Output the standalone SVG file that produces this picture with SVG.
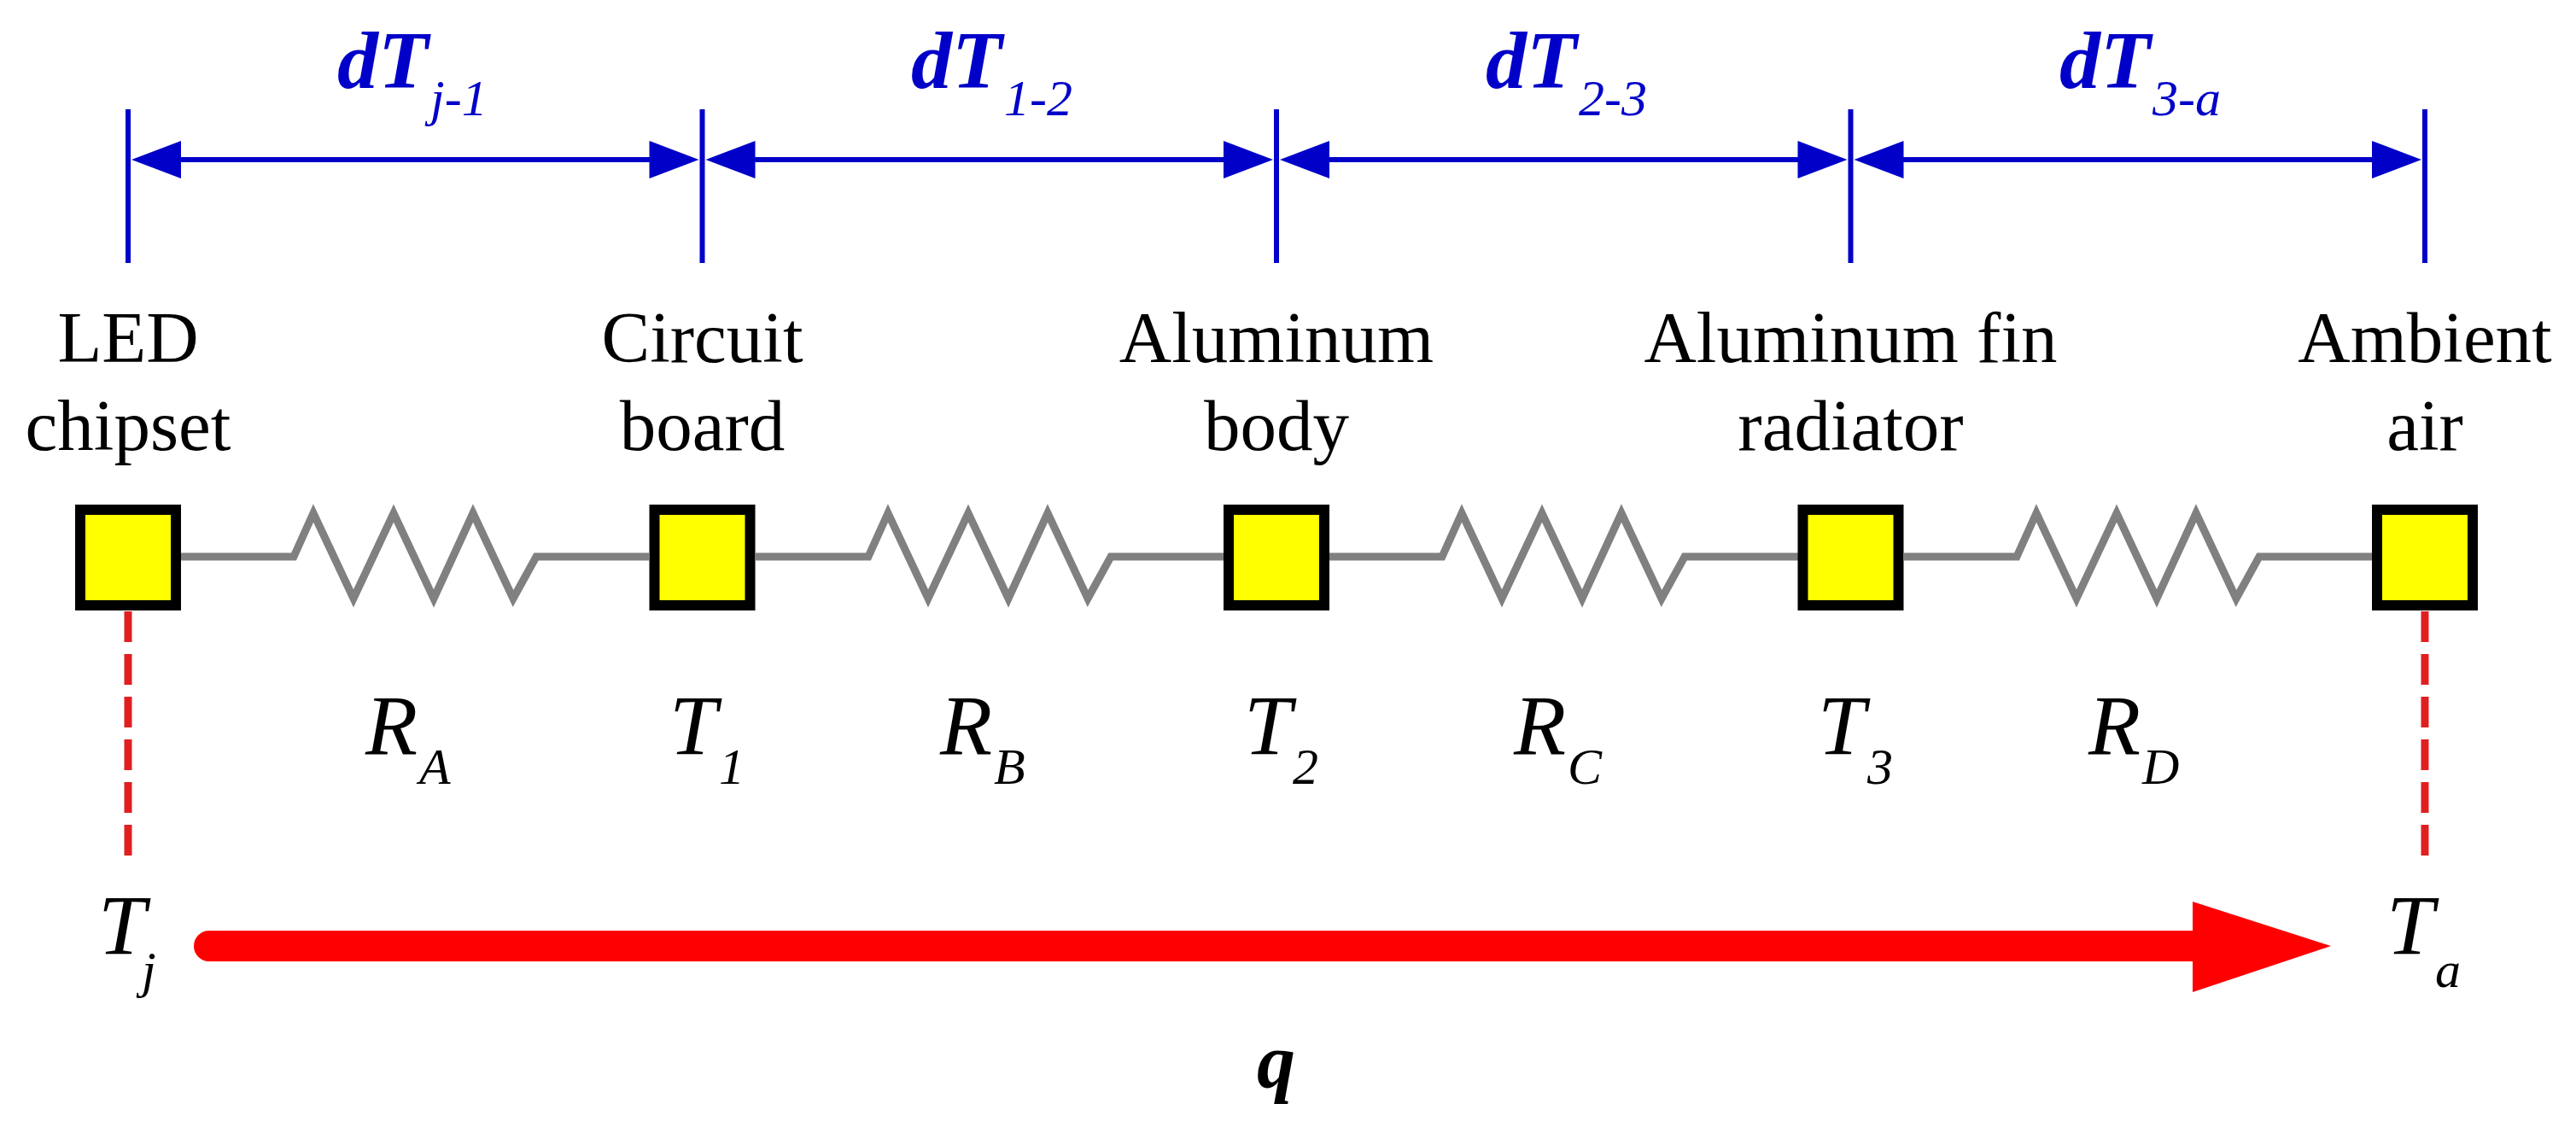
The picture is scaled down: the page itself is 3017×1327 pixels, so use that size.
<svg xmlns="http://www.w3.org/2000/svg" width="3017" height="1327" viewBox="0 0 3017 1327">
<style>
.lbl{font-family:"Liberation Serif","Times New Roman",serif;font-size:85px;fill:#000;text-anchor:middle}
.dt{font-family:"Liberation Serif",serif;font-size:96px;font-weight:bold;font-style:italic;fill:#0000C8}
.dts{font-family:"Liberation Serif",serif;font-size:60px;font-style:italic;fill:#0000C8}
.v{font-family:"Liberation Serif",serif;font-size:100px;font-style:italic;fill:#000}
.vs{font-family:"Liberation Serif",serif;font-size:60px;font-style:italic;fill:#000}
.q{font-family:"Liberation Serif",serif;font-size:90px;font-style:italic;font-weight:bold;fill:#000}
.tick{stroke:#0000C8;stroke-width:6}
.dim{stroke:#0000C8;stroke-width:6}
.ah{fill:#0000C8}
.wire{fill:none;stroke:#808080;stroke-width:9;stroke-linejoin:miter}
.node{fill:#FFFF00;stroke:#000;stroke-width:12}
.dash{stroke:#E02020;stroke-width:9;stroke-dasharray:36 14}
</style>
<rect width="3017" height="1327" fill="#fff"/>
<g id="dimensions">
<line class="tick" x1="150" y1="128" x2="150" y2="308"/>
<line class="tick" x1="822.5" y1="128" x2="822.5" y2="308"/>
<line class="tick" x1="1495" y1="128" x2="1495" y2="308"/>
<line class="tick" x1="2167.5" y1="128" x2="2167.5" y2="308"/>
<line class="tick" x1="2840" y1="128" x2="2840" y2="308"/>
<line class="dim" x1="200" y1="187" x2="772" y2="187"/>
<line class="dim" x1="872" y1="187" x2="1445" y2="187"/>
<line class="dim" x1="1545" y1="187" x2="2117" y2="187"/>
<line class="dim" x1="2217" y1="187" x2="2790" y2="187"/>
<polygon class="ah" points="154,187 212,165 212,209"/>
<polygon class="ah" points="818.5,187 760.5,165 760.5,209"/>
<polygon class="ah" points="826.5,187 884.5,165 884.5,209"/>
<polygon class="ah" points="1491,187 1433,165 1433,209"/>
<polygon class="ah" points="1499,187 1557,165 1557,209"/>
<polygon class="ah" points="2163.5,187 2105.5,165 2105.5,209"/>
<polygon class="ah" points="2171.5,187 2229.5,165 2229.5,209"/>
<polygon class="ah" points="2836,187 2778,165 2778,209"/>
<text class="dt" x="395" y="103">dT</text><text class="dts" x="504" y="135">j-1</text>
<text class="dt" x="1067" y="103">dT</text><text class="dts" x="1176" y="135">1-2</text>
<text class="dt" x="1740" y="103">dT</text><text class="dts" x="1849" y="135">2-3</text>
<text class="dt" x="2412" y="103">dT</text><text class="dts" x="2521" y="135">3-a</text>
</g>
<g id="connectors">
<polyline class="wire" points="212,652 344,652 367,601 414,701 461,601 508,701 554,601 601,701 628,652 760,652"/>
<polyline class="wire" points="885,652 1017,652 1040,601 1087,701 1134,601 1181,701 1227,601 1274,701 1301,652 1433,652"/>
<polyline class="wire" points="1557,652 1689,652 1712,601 1759,701 1806,601 1853,701 1899,601 1946,701 1973,652 2106,652"/>
<polyline class="wire" points="2230,652 2362,652 2385,601 2432,701 2479,601 2526,701 2572,601 2619,701 2646,652 2778,652"/>
<line class="dash" x1="150" y1="716" x2="150" y2="1002"/>
<line class="dash" x1="2840" y1="716" x2="2840" y2="1002"/>
<line x1="245" y1="1108" x2="2580" y2="1108" stroke="#FF0000" stroke-width="36" stroke-linecap="round"/>
<polygon points="2568,1056 2730,1108 2568,1162" fill="#FF0000"/>
</g>
<g id="node-led">
<rect class="node" x="94" y="597" width="112" height="112"/>
<text class="lbl" x="150" y="424">LED</text><text class="lbl" x="150" y="527">chipset</text>
<text class="v" x="115" y="1117">T</text><text class="vs" x="166" y="1156">j</text>
</g>
<g id="node-board">
<rect class="node" x="766.5" y="597" width="112" height="112"/>
<text class="lbl" x="822.5" y="424">Circuit</text><text class="lbl" x="822.5" y="527">board</text>
<text class="v" x="784" y="883">T</text><text class="vs" x="842" y="918">1</text>
</g>
<g id="node-body">
<rect class="node" x="1439" y="597" width="112" height="112"/>
<text class="lbl" x="1495" y="424">Aluminum</text><text class="lbl" x="1495" y="527">body</text>
<text class="v" x="1457" y="883">T</text><text class="vs" x="1514" y="918">2</text>
</g>
<g id="node-fin">
<rect class="node" x="2111.5" y="597" width="112" height="112"/>
<text class="lbl" x="2167.5" y="424">Aluminum fin</text><text class="lbl" x="2167.5" y="527">radiator</text>
<text class="v" x="2129" y="883">T</text><text class="vs" x="2187" y="918">3</text>
</g>
<g id="node-air">
<rect class="node" x="2784" y="597" width="112" height="112"/>
<text class="lbl" x="2840" y="424">Ambient</text><text class="lbl" x="2840" y="527">air</text>
<text class="v" x="2795" y="1117">T</text><text class="vs" x="2852" y="1156">a</text>
</g>
<g id="resistor-labels">
<text class="v" x="428" y="883">R</text><text class="vs" x="491" y="918">A</text>
<text class="v" x="1101" y="883">R</text><text class="vs" x="1164" y="918">B</text>
<text class="v" x="1773" y="883">R</text><text class="vs" x="1836" y="918">C</text>
<text class="v" x="2446" y="883">R</text><text class="vs" x="2509" y="918">D</text>
</g>
<text class="q" x="1472" y="1274">q</text>
</svg>
